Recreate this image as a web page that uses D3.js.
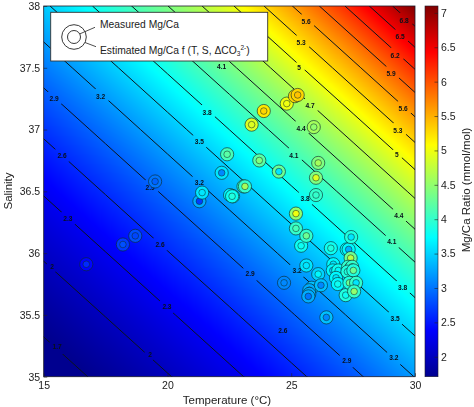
<!DOCTYPE html>
<html>
<head>
<meta charset="utf-8">
<script src="https://cdn.jsdelivr.net/npm/d3@7/dist/d3.min.js"></script>
<style>
html,body{margin:0;padding:0;background:#fff;}
svg{display:block;filter:blur(0.3px);}
text{font-family:"Liberation Sans",Arial,sans-serif;fill:#222;}
</style>
</head>
<body>
<div id="chart"></div>
<script>
// ---- field: Mg/Ca at grid nodes ----
const fieldT = [15, 17.5, 20, 22.5, 25, 27.5, 30];
const fieldS = [35, 35.5, 36, 36.5, 37, 37.5, 38];
const fieldRow350 = [1.561, 1.760, 1.984, 2.237, 2.523, 2.844, 3.207];
const fieldRow355 = [1.782, 2.009, 2.265, 2.554, 2.880, 3.247, 3.661];
const fieldRow360 = [2.035, 2.294, 2.587, 2.916, 3.288, 3.707, 4.180];
const fieldRow365 = [2.323, 2.619, 2.953, 3.330, 3.754, 4.232, 4.772];
const fieldRow370 = [2.652, 2.990, 3.372, 3.801, 4.286, 4.832, 5.448];
const fieldRow375 = [3.028, 3.414, 3.849, 4.340, 4.893, 5.517, 6.220];
const fieldRow380 = [3.457, 3.898, 4.395, 4.955, 5.587, 6.299, 7.102];

const contourLevels = [1.7, 2, 2.3, 2.6, 2.9, 3.2, 3.5, 3.8, 4.1, 4.4, 4.7, 5, 5.3, 5.6, 5.9, 6.2, 6.5, 6.8];

// ---- contour labels ----
const labelText = ["1.7","2","2","2.3","2.3","2.6","2.6","2.6","2.9","2.9","2.9","2.9","3.2","3.2","3.2","3.2","3.5","3.5","3.8","3.8","3.8","4.1","4.1","4.1","4.4","4.4","4.7","5","5","5.3","5.3","5.6","5.6","5.9","6.2","6.5","6.8"];
const labelT = [15.54,15.34,19.30,15.98,19.98,15.74,19.70,24.66,15.42,19.30,23.34,27.25,17.30,21.29,25.24,29.15,21.29,29.20,21.60,25.56,29.50,22.19,25.11,29.06,25.40,29.35,25.76,25.32,29.27,25.40,29.31,25.60,29.52,29.03,29.20,29.40,29.56];
const labelS = [35.24,35.89,35.18,36.28,35.57,36.79,36.07,35.37,37.25,36.53,35.83,35.13,37.27,36.57,35.86,35.15,36.90,35.47,37.14,36.44,35.72,37.51,36.79,36.09,37.01,36.30,37.19,37.50,36.80,37.70,36.99,37.87,37.17,37.45,37.60,37.75,37.88];

// ---- sampling sites ----
const pointT = [16.72,18.20,18.70,19.50,21.29,21.40,22.19,22.41,22.53,22.65,22.61,23.07,23.13,23.40,23.71,23.89,24.50,24.82,25.15,25.26,25.19,25.19,25.40,25.61,25.61,24.71,25.83,25.73,25.73,25.69,25.91,26.09,26.00,26.00,26.09,26.20,26.42,26.60,26.70,26.68,26.90,26.81,26.88,27.20,27.24,27.32,27.42,27.40,27.30,27.46,27.27,27.51,27.35,27.62,27.54];
const pointS = [35.91,36.07,36.14,36.58,36.42,36.49,36.65,36.80,36.47,36.46,36.46,36.54,36.54,37.04,36.75,37.15,36.66,37.21,37.27,37.28,36.32,36.20,36.06,36.14,35.90,35.76,35.72,35.70,35.67,35.65,37.02,36.73,36.61,36.47,35.83,35.74,35.48,36.04,35.91,35.86,35.86,35.80,35.75,35.66,36.03,36.03,36.13,35.96,35.89,35.89,35.85,35.86,35.76,35.76,35.69];
const pointMeasured = [2.6,2.8,2.75,2.9,2.7,3.6,3.1,4.2,3.9,4.0,3.9,4.2,4.6,4.9,4.4,5.3,3.6,5.0,5.4,5.4,5.0,4.1,3.8,4.3,3.6,3.1,3.3,2.9,3.0,3.0,4.5,4.6,4.9,4.0,3.7,3.1,3.1,3.9,3.6,3.5,3.7,3.6,3.8,3.8,3.1,3.3,3.6,4.7,4.1,4.1,3.9,4.3,4.3,3.6,4.5];
const pointEstimated = [2.4,2.7,2.8,3.0,3.3,3.6,3.6,4.1,3.7,3.8,3.8,4.0,4.0,4.9,4.2,5.2,4.3,5.0,5.3,5.3,4.5,4.0,3.8,4.0,3.6,3.1,3.4,3.3,3.3,3.3,4.6,4.4,4.4,4.0,3.5,3.4,3.4,3.8,3.7,3.7,3.8,3.7,3.7,3.9,3.7,3.7,3.9,4.3,4.0,4.0,3.9,3.9,3.9,4.0,4.0];

// ---- ticks ----
const xTicks = [15, 20, 25, 30];
const yTicks = [35, 35.5, 36, 36.5, 37, 37.5, 38];
const barTicks = [2, 2.5, 3, 3.5, 4, 4.5, 5, 5.5, 6, 6.5, 7];
const jetStops = ["#00008f","#0000ff","#00ffff","#ffff00","#ff0000","#800000"];
const jetPositions = [0, 0.125, 0.375, 0.625, 0.875, 1];
const barDomain = [1.71, 7.1];

const W = 474, H = 407;
const M = {l: 43.7, r: 415, t: 6, b: 376.7};
const xS = d3.scaleLinear().domain([15, 30]).range([M.l, M.r]);
const yS = d3.scaleLinear().domain([35, 38]).range([M.b, M.t]);
const color = d3.scaleLinear()
  .domain(jetPositions.map(p => barDomain[0] + p * (barDomain[1] - barDomain[0])))
  .range(jetStops).clamp(true);

const field = [fieldRow350, fieldRow355, fieldRow360, fieldRow365, fieldRow370, fieldRow375, fieldRow380];
const logField = field.map(r => r.map(Math.log));
const dT = fieldT[1] - fieldT[0], dS = fieldS[1] - fieldS[0];

function sample(T, S) {
  const u = Math.min(Math.max((T - fieldT[0]) / dT, 0), fieldT.length - 1.0001);
  const v = Math.min(Math.max((S - fieldS[0]) / dS, 0), fieldS.length - 1.0001);
  const i = Math.floor(u), j = Math.floor(v), a = u - i, b = v - j;
  return Math.exp(
    logField[j][i] * (1 - a) * (1 - b) + logField[j][i + 1] * a * (1 - b) +
    logField[j + 1][i] * (1 - a) * b + logField[j + 1][i + 1] * a * b);
}

const svg = d3.select("#chart").append("svg").attr("width", W).attr("height", H);
const defs = svg.append("defs");
defs.append("clipPath").attr("id", "plotClip").append("rect")
  .attr("x", M.l).attr("y", M.t).attr("width", M.r - M.l).attr("height", M.b - M.t);

// background field
const cw = Math.round(M.r - M.l), ch = Math.round(M.b - M.t);
const cv = document.createElement("canvas");
cv.width = cw; cv.height = ch;
const ctx = cv.getContext("2d");
const img = ctx.createImageData(cw, ch);
for (let py = 0; py < ch; py++) {
  for (let px = 0; px < cw; px++) {
    const c = d3.rgb(color(sample(xS.invert(M.l + px + 0.5), yS.invert(M.t + py + 0.5))));
    const k = (py * cw + px) * 4;
    img.data[k] = c.r; img.data[k + 1] = c.g; img.data[k + 2] = c.b; img.data[k + 3] = 255;
  }
}
ctx.putImageData(img, 0, 0);
svg.append("image").attr("x", M.l).attr("y", M.t).attr("width", M.r - M.l).attr("height", M.b - M.t)
  .attr("preserveAspectRatio", "none").attr("href", cv.toDataURL());

// mask that opens a gap in the contour lines at each label
const labels = labelText.map((t, i) => ({t, T: labelT[i], S: labelS[i]}));
const mask = defs.append("mask").attr("id", "gapMask").attr("maskUnits", "userSpaceOnUse")
  .attr("x", 0).attr("y", 0).attr("width", W).attr("height", H);
mask.append("rect").attr("width", W).attr("height", H).attr("fill", "#fff");
mask.selectAll("circle").data(labels).join("circle")
  .attr("cx", d => xS(d.T)).attr("cy", d => yS(d.S))
  .attr("r", d => d.t.length > 1 ? 9 : 6).attr("fill", "#000");

// contour lines from the grid
const contourGen = d3.contours()
  .size([fieldT.length, fieldS.length])
  .thresholds(contourLevels.map(Math.log));
const contourData = contourGen(logField.flat());
const cx = c => xS(fieldT[0] + (c - 0.5) * dT);
const cy = c => yS(fieldS[0] + (c - 0.5) * dS);
const pathGen = d3.geoPath(d3.geoTransform({
  point(x, y) { this.stream.point(cx(x), cy(y)); }
}));
svg.append("g").attr("clip-path", "url(#plotClip)").append("g").attr("mask", "url(#gapMask)")
  .selectAll("path").data(contourData).join("path")
  .attr("d", pathGen).attr("fill", "none").attr("stroke", "#0c141c").attr("stroke-width", 1);

// contour labels
svg.append("g").selectAll("text").data(labels).join("text")
  .attr("x", d => xS(d.T)).attr("y", d => yS(d.S)).attr("dy", "0.35em")
  .attr("text-anchor", "middle").attr("font-size", 6.6).attr("font-weight", 700)
  .style("fill", "#08101a").text(d => d.t);

// points
const points = pointT.map((T, i) => ({T, S: pointS[i], m: pointMeasured[i], e: pointEstimated[i]}));
const pts = svg.append("g").selectAll("g").data(points).join("g")
  .attr("transform", d => `translate(${xS(d.T)},${yS(d.S)})`);
pts.append("circle").attr("r", 6.6).attr("fill", d => color(d.e))
  .attr("stroke", "#0d2b2b").attr("stroke-opacity", 0.8).attr("stroke-width", 0.8);
pts.append("circle").attr("r", 3.3).attr("fill", d => color(d.m))
  .attr("stroke", "#0d2b2b").attr("stroke-opacity", 0.75).attr("stroke-width", 0.7);

// axes
const styleAxis = g => {
  g.selectAll("text").attr("font-size", 10.5).style("fill", "#222");
  g.selectAll("line").attr("stroke", "#222").attr("stroke-width", 0.6);
  g.selectAll(".domain").attr("stroke", "none");
};
const fmt = d => String(d);
svg.append("g").attr("transform", `translate(0,${M.b})`)
  .call(d3.axisBottom(xS).tickValues(xTicks).tickFormat(fmt).tickSize(-3.5).tickPadding(5.3)).call(styleAxis);
svg.append("g").attr("transform", `translate(${M.l},0)`)
  .call(d3.axisLeft(yS).tickValues(yTicks).tickFormat(fmt).tickSize(-3.5).tickPadding(3.5)).call(styleAxis);
svg.append("rect").attr("x", M.l).attr("y", M.t).attr("width", M.r - M.l).attr("height", M.b - M.t)
  .attr("fill", "none").attr("stroke", "#1a1a2a").attr("stroke-width", 0.8);

// colour bar
const bar = {l: 425, r: 438};
const barY = d3.scaleLinear().domain(barDomain).range([M.b, M.t]);
const grad = defs.append("linearGradient").attr("id", "jet")
  .attr("x1", 0).attr("x2", 0).attr("y1", 1).attr("y2", 0);
grad.selectAll("stop").data(jetPositions).join("stop")
  .attr("offset", d => d).attr("stop-color", (d, i) => jetStops[i]);
svg.append("rect").attr("x", bar.l).attr("y", M.t).attr("width", bar.r - bar.l).attr("height", M.b - M.t)
  .attr("fill", "url(#jet)");
svg.append("g").attr("transform", `translate(${bar.r},0)`)
  .call(d3.axisRight(barY).tickValues(barTicks).tickFormat(fmt).tickSize(-3.5).tickPadding(3)).call(styleAxis);
svg.append("rect").attr("x", bar.l).attr("y", M.t).attr("width", bar.r - bar.l).attr("height", M.b - M.t)
  .attr("fill", "none").attr("stroke", "#1a1a2a").attr("stroke-width", 0.6);

// axis titles
svg.append("text").attr("x", 227).attr("y", 404).attr("text-anchor", "middle")
  .attr("font-size", 11.5).text("Temperature (\u00B0C)");
svg.append("text").attr("transform", "translate(12,191) rotate(-90)").attr("text-anchor", "middle")
  .attr("font-size", 11.5).text("Salinity");
svg.append("text").attr("transform", "translate(470,190) rotate(-90)").attr("text-anchor", "middle")
  .attr("font-size", 11.5).text("Mg/Ca Ratio (mmol/mol)");

// legend
const lg = svg.append("g");
lg.append("rect").attr("x", 50.7).attr("y", 12.3).attr("width", 217).attr("height", 48.7)
  .attr("fill", "#fff").attr("stroke", "#333").attr("stroke-width", 0.9);
lg.append("circle").attr("cx", 74).attr("cy", 37).attr("r", 12.3).attr("fill", "none").attr("stroke", "#222").attr("stroke-width", 0.9);
lg.append("circle").attr("cx", 74).attr("cy", 37).attr("r", 6.5).attr("fill", "none").attr("stroke", "#222").attr("stroke-width", 0.9);
lg.append("line").attr("x1", 79.5).attr("y1", 34).attr("x2", 95).attr("y2", 27.3).attr("stroke", "#222").attr("stroke-width", 0.8);
lg.append("line").attr("x1", 85).attr("y1", 42.5).attr("x2", 96).attr("y2", 46.7).attr("stroke", "#222").attr("stroke-width", 0.8);
lg.append("text").attr("x", 100).attr("y", 28).attr("font-size", 10.3).text("Measured Mg/Ca");
const t2 = lg.append("text").attr("x", 100).attr("y", 53.5).attr("font-size", 10.3);
t2.append("tspan").text("Estimated Mg/Ca f (T, S, \u0394CO");
t2.append("tspan").attr("font-size", 6.5).attr("dy", 2.5).text("3");
t2.append("tspan").attr("font-size", 6.5).attr("dy", -6.5).text("2-");
t2.append("tspan").attr("dy", 4).text(")");
</script>
</body>
</html>
